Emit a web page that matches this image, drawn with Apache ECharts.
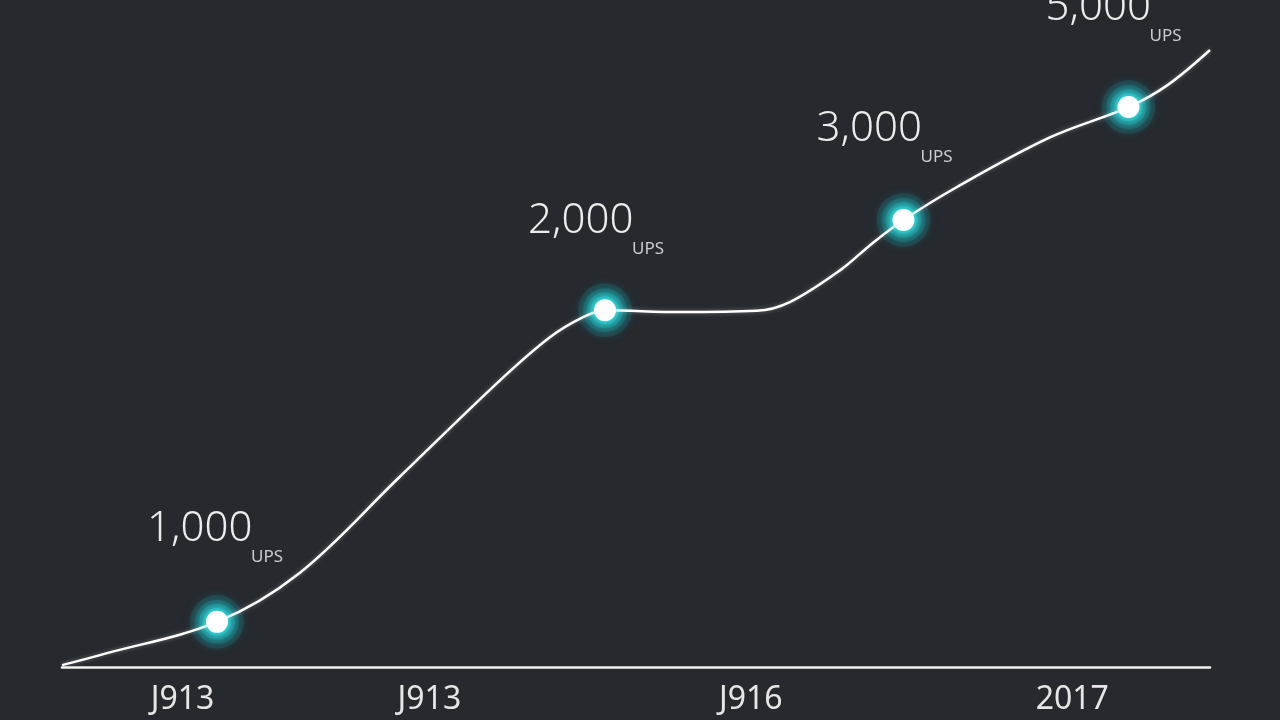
<!DOCTYPE html>
<html>
<head>
<meta charset="utf-8">
<script src="https://cdn.jsdelivr.net/npm/echarts@6/dist/echarts.min.js"></script>
<style>
html,body{margin:0;padding:0;background:#26292e;}
#c{width:1280px;height:720px;}
</style>
</head>
<body>
<div id="c"></div>
<script>
// ---- data ----
const lineX = [0, 3.3, 13.5, 20.7, 29.4, 38.2, 42.5, 45.4, 47.3, 53.8, 60.5, 63.4, 67.8, 70.6, 73.3, 78.0, 86.1, 92.9, 96.3, 100];
const lineY = [0.3, 1.9, 7.2, 15.0, 30.3, 45.8, 52.6, 55.8, 56.9, 56.6, 56.8, 58.2, 63.3, 67.6, 71.3, 76.6, 84.5, 89.3, 92.8, 98.4];
const markedIndex = [2, 8, 14, 17];
const pointValues = ['1,000', '2,000', '3,000', '5,000'];
const pointUnit = 'UPS';
const tickValues = [10.5, 32, 60, 88];
const tickLabels = ['J913', 'J913', 'J916', '2017'];

// ---- layout (not data) ----
const labelOffsets = [[-70, -113], [-77, -109], [-87, -111], [-83, -119]];

const seriesData = lineX.map((x, i) => {
  const k = markedIndex.indexOf(i);
  if (k < 0) return { value: [x, lineY[i]], symbol: 'none' };
  return {
    value: [x, lineY[i]],
    symbol: 'circle',
    symbolSize: 22,
    label: {
      show: true,
      position: 'inside',
      align: 'left',
      verticalAlign: 'top',
      offset: labelOffsets[k],
      formatter: '{n|' + pointValues[k] + '}\n{u|' + pointUnit + '}'
    }
  };
});
const haloData = markedIndex.map(i => [lineX[i], lineY[i]]);

function halo(size, opacity) {
  return {
    type: 'scatter',
    data: haloData,
    symbolSize: size,
    silent: true,
    z: 1,
    itemStyle: {
      color: 'rgb(30,200,205)',
      opacity: opacity,
      shadowBlur: 10,
      shadowColor: 'rgb(30,200,205)'
    },
    emphasis: { disabled: true }
  };
}

const chart = echarts.init(document.getElementById('c'));
chart.setOption({
  backgroundColor: '#26292e',
  animation: false,
  grid: { left: 62, right: 70, top: 40, bottom: 53 },
  xAxis: {
    type: 'value', min: 0, max: 100, interval: 0.5,
    axisLine: { show: true, onZero: false, lineStyle: { color: '#f2f2f2', width: 2.5 } },
    axisTick: { show: false },
    splitLine: { show: false },
    axisLabel: {
      margin: 17,
      color: '#e6e6e6',
      fontSize: 32,
      fontFamily: 'Noto Sans',
      showMinLabel: true, showMaxLabel: true,
      formatter: function (v) {
        const k = tickValues.indexOf(v);
        return k >= 0 ? tickLabels[k] : '';
      }
    }
  },
  yAxis: {
    type: 'value', min: 0, max: 100, show: false
  },
  series: [
    halo(54, 0.12),
    halo(44, 0.16),
    halo(36, 0.22),
    halo(28, 0.35),
    {
    type: 'line',
    smooth: 0.35,
    data: seriesData,
    showAllSymbol: true,
    clip: false,
    z: 2,
    lineStyle: { color: '#ffffff', width: 2.5, shadowBlur: 4, shadowColor: 'rgba(255,255,255,0.35)' },
    itemStyle: {
      color: '#ffffff',
      borderWidth: 0,
      shadowBlur: 10,
      shadowColor: 'rgba(80,245,245,1)'
    },
    label: {
      rich: {
        n: { fontSize: 42, lineHeight: 40, color: '#ececec', fontFamily: 'Noto Sans', fontWeight: 300 },
        u: { fontSize: 17, lineHeight: 16, color: '#c9cdd1', fontFamily: 'Noto Sans', padding: [0, 0, 0, 104] }
      }
    },
    emphasis: { disabled: true }
  }]
});
</script>
</body>
</html>
